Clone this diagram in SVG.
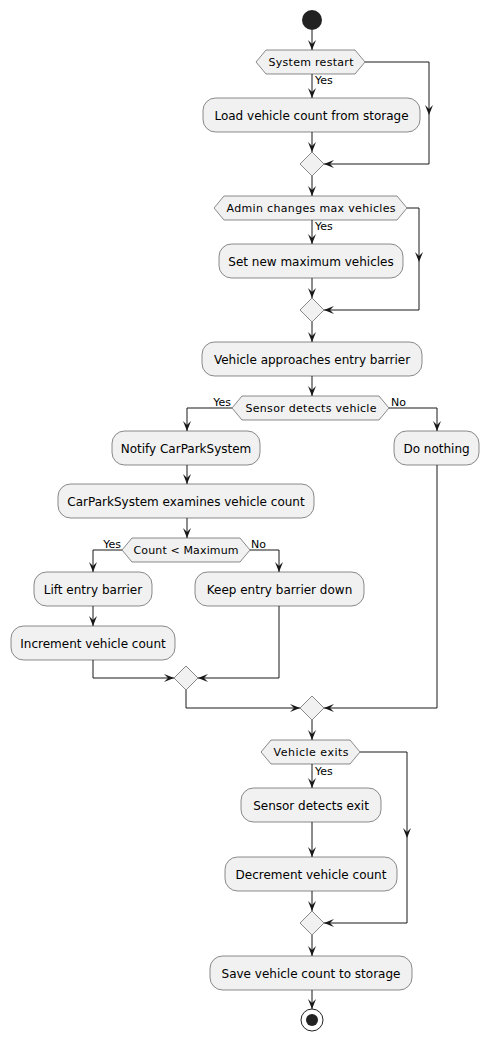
<svg xmlns="http://www.w3.org/2000/svg" width="489" height="1041" viewBox="0 0 489 1041">
<defs>
<style>
.box{fill:#F1F1F1;stroke:#181818;stroke-width:0.5}
.hex{fill:#F1F1F1;stroke:#181818;stroke-width:0.5}
.dia{fill:#F1F1F1;stroke:#181818;stroke-width:0.5}
.t{font-family:"DejaVu Sans","Liberation Sans",sans-serif;font-size:12px;fill:#000;text-anchor:middle}
.ht{font-family:"DejaVu Sans","Liberation Sans",sans-serif;font-size:11px;fill:#000;text-anchor:middle}
.lb{font-family:"DejaVu Sans","Liberation Sans",sans-serif;font-size:11px;fill:#000}
.c{fill:none;stroke:#181818;stroke-width:1;marker-end:url(#ah)}
</style>
<marker id="ah" viewBox="0 0 10 10" refX="10" refY="5" markerWidth="10" markerHeight="10" markerUnits="userSpaceOnUse" orient="auto">
<path d="M0,1 L10,5 L0,9 L4,5 z" fill="#181818"/>
</marker>
</defs>
<rect width="489" height="1041" fill="#FFFFFF"/>

<g id="connectors">
<path class="c" d="M312,30 L312,50"/>
<path class="c" d="M312,74 L312,98"/>
<path class="c" d="M312,132 L312,152"/>
<path class="c" d="M365,62 L429,62 L429,115"/>
<path class="c" d="M429,115 L429,164 L324,164"/>
<path class="c" d="M312,176 L312,196"/>
<path class="c" d="M312,220 L312,244"/>
<path class="c" d="M312,278 L312,298"/>
<path class="c" d="M407,208 L419,208 L419,262"/>
<path class="c" d="M419,262 L419,310 L324,310"/>
<path class="c" d="M312,322 L312,342"/>
<path class="c" d="M312,376 L312,396"/>
<path class="c" d="M232,408 L187,408 L187,431"/>
<path class="c" d="M389,408 L437,408 L437,431"/>
<path class="c" d="M187,465 L187,484"/>
<path class="c" d="M187,518 L187,538"/>
<path class="c" d="M122,550 L93,550 L93,572"/>
<path class="c" d="M250,550 L279,550 L279,572"/>
<path class="c" d="M93,606 L93,626"/>
<path class="c" d="M93,660 L93,678 L174,678"/>
<path class="c" d="M279,606 L279,678 L198,678"/>
<path class="c" d="M186,690 L186,708 L300,708"/>
<path class="c" d="M437,465 L437,708 L324,708"/>
<path class="c" d="M312,720 L312,740"/>
<path class="c" d="M312,764 L312,788"/>
<path class="c" d="M312,822 L312,857"/>
<path class="c" d="M312,891 L312,911"/>
<path class="c" d="M360,752 L407,752 L407,838"/>
<path class="c" d="M407,838 L407,923 L324,923"/>
<path class="c" d="M312,935 L312,956"/>
<path class="c" d="M312,990 L312,1009"/>
<text class="lb" x="315" y="84">Yes</text>
<text class="lb" x="315" y="230">Yes</text>
<text class="lb" x="231" y="406" text-anchor="end">Yes</text>
<text class="lb" x="391" y="406">No</text>
<text class="lb" x="121" y="548" text-anchor="end">Yes</text>
<text class="lb" x="251" y="548">No</text>
<text class="lb" x="315" y="775">Yes</text>
</g>

<g id="start"><circle cx="312" cy="20" r="10" fill="#222222"/></g>

<g id="d_restart">
<polygon class="hex" points="256,62 266,50 355,50 365,62 355,74 266,74"/>
<text class="ht" x="311" y="66" textLength="85">System restart</text>
</g>
<g id="load">
<rect class="box" x="203" y="98" width="217" height="34" rx="12.5"/>
<text class="t" x="311.5" y="119.5">Load vehicle count from storage</text>
</g>
<g id="m1"><polygon class="dia" points="312,152 324,164 312,176 300,164"/></g>

<g id="d_admin">
<polygon class="hex" points="214,208 224,196 397,196 407,208 397,220 224,220"/>
<text class="ht" x="311" y="212" textLength="169">Admin changes max vehicles</text>
</g>
<g id="setmax">
<rect class="box" x="219" y="244" width="184" height="34" rx="12.5"/>
<text class="t" x="311" y="265.5">Set new maximum vehicles</text>
</g>
<g id="m2"><polygon class="dia" points="312,298 324,310 312,322 300,310"/></g>

<g id="approach">
<rect class="box" x="202" y="342" width="220" height="34" rx="12.5"/>
<text class="t" x="312" y="363.5">Vehicle approaches entry barrier</text>
</g>

<g id="d_sensor">
<polygon class="hex" points="232,408 242,396 379,396 389,408 379,420 242,420"/>
<text class="ht" x="311" y="412" textLength="131">Sensor detects vehicle</text>
</g>
<g id="notify">
<rect class="box" x="112" y="431" width="148" height="34" rx="12.5"/>
<text class="t" x="186" y="452.5">Notify CarParkSystem</text>
</g>
<g id="nothing">
<rect class="box" x="394" y="431" width="85" height="34" rx="12.5"/>
<text class="t" x="436.5" y="452.5">Do nothing</text>
</g>
<g id="examine">
<rect class="box" x="58" y="484" width="256" height="34" rx="12.5"/>
<text class="t" x="186" y="505.5">CarParkSystem examines vehicle count</text>
</g>

<g id="d_count">
<polygon class="hex" points="122,550 132,538 240,538 250,550 240,562 132,562"/>
<text class="ht" x="186" y="554" textLength="105">Count &lt; Maximum</text>
</g>
<g id="lift">
<rect class="box" x="34" y="572" width="118" height="34" rx="12.5"/>
<text class="t" x="93" y="593.5">Lift entry barrier</text>
</g>
<g id="keep">
<rect class="box" x="195" y="572" width="169" height="34" rx="12.5"/>
<text class="t" x="279.5" y="593.5">Keep entry barrier down</text>
</g>
<g id="increment">
<rect class="box" x="11" y="626" width="164" height="34" rx="12.5"/>
<text class="t" x="93" y="647.5">Increment vehicle count</text>
</g>
<g id="m3"><polygon class="dia" points="186,666 198,678 186,690 174,678"/></g>
<g id="m4"><polygon class="dia" points="312,696 324,708 312,720 300,708"/></g>

<g id="d_exit">
<polygon class="hex" points="261,752 271,740 350,740 360,752 350,764 271,764"/>
<text class="ht" x="311" y="756" textLength="75">Vehicle exits</text>
</g>
<g id="sensorexit">
<rect class="box" x="241" y="788" width="140" height="34" rx="12.5"/>
<text class="t" x="311" y="809.5">Sensor detects exit</text>
</g>
<g id="decrement">
<rect class="box" x="225" y="857" width="172" height="34" rx="12.5"/>
<text class="t" x="311" y="878.5">Decrement vehicle count</text>
</g>
<g id="m5"><polygon class="dia" points="312,911 324,923 312,935 300,923"/></g>
<g id="save">
<rect class="box" x="210" y="956" width="202" height="34" rx="12.5"/>
<text class="t" x="311" y="977.5">Save vehicle count to storage</text>
</g>
<g id="end">
<circle cx="312" cy="1020" r="11" fill="none" stroke="#222222" stroke-width="1"/>
<circle cx="312" cy="1020" r="6" fill="#222222"/>
</g>
</svg>
